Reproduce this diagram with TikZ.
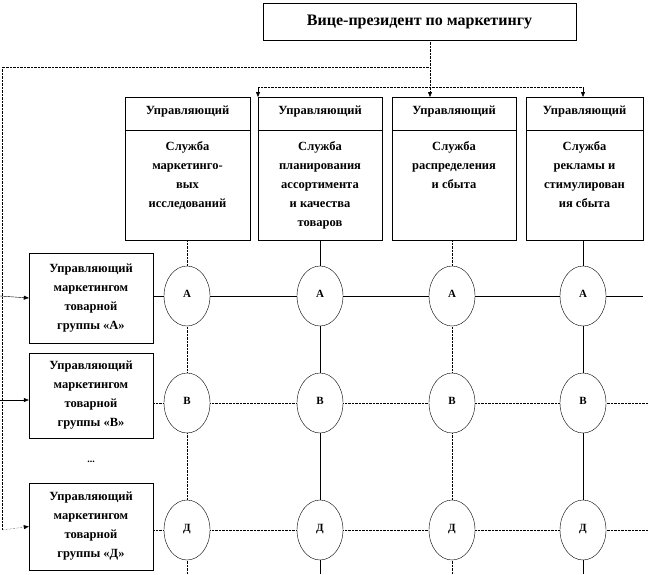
\documentclass[tikz,border=0pt]{standalone}
\usepackage{fontspec}
\setmainfont{Liberation Serif}
\usetikzlibrary{arrows.meta,shapes.geometric}
\tikzset{
 box/.style={draw,fill=white,font=\bfseries\fontsize{12.5}{19}\selectfont,align=center,inner sep=0pt},
 cell/.style={draw,fill=white,ellipse,minimum width=46pt,minimum height=60pt,inner sep=0pt,font=\bfseries\fontsize{11}{12}\selectfont},
 dots/.style={densely dotted},
 arr/.style={-{Triangle[length=5pt,width=4pt]}}
}
\begin{document}
\begin{tikzpicture}[x=1pt,y=-1pt]
 \useasboundingbox (0,0) rectangle (648,574);
 % vice-president
 \node[box,font=\bfseries\fontsize{16}{18}\selectfont,minimum width=313pt,minimum height=37pt] (vp) at (419.5,21.5) {Вице-президент по маркетингу};
 % grid lines
 \draw[dots] (187,240) -- (187,574);
 \draw (320,240) -- (320,574);
 \draw[dots] (452,240) -- (452,574);
 \draw (583,240) -- (583,574);
 \draw (153,296) -- (643,296);
 \draw[dots] (153,403) -- (648,403);
 \draw[dots] (153,530) -- (648,530);
 % service boxes
 \foreach \n/\xa/\xb/\txt in {s1/125/250/{Служба\\маркетинго-\\вых\\исследований},
   s2/258/382/{Служба\\планирования\\ассортимента\\и качества\\товаров},
   s3/392/516/{Служба\\распределения\\и сбыта},
   s4/526/643/{Служба\\рекламы и\\стимулирован\\ия сбыта}}{
  \draw[fill=white] (\xa,97) rectangle (\xb,240);
  \draw (\xa,130) -- (\xb,130);
  \node[box,draw=none,anchor=north] (\n) at ({(\xa+\xb)/2},106) {Управляющий};
  \node[box,draw=none,anchor=north] (\n t) at ({(\xa+\xb)/2},141) {\txt};
 }
 % product group managers
 \foreach \n/\ya/\yb/\g in {ga/253/343/А,gb/353/438/В,gd/483/570/Д}{
  \node[box,minimum width=124pt,minimum height={\yb-\ya}] (\n) at (91,{(\ya+\yb)/2}) {Управляющий\\маркетингом\\товарной\\группы «\g»};
 }
 \node[font=\bfseries\fontsize{10}{12}\selectfont] (etc) at (91,462) {...};
 % matrix cells
 \foreach \r/\y/\l in {a/296/А,b/403/В,d/530/Д}{
  \foreach \c/\x in {1/187,2/320,3/452,4/583}{
   \node[cell] (c\r\c) at (\x,\y) {\raisebox{5pt}{\l}};
  }
 }
 % links from vice-president
 \coordinate (j) at (430,67);
 \coordinate (k) at (430,87);
 \draw[dots] (vp.south -| j) -- (j) -- (2,67) -- (2,530) coordinate (l);
 \draw[dots,arr] (l) -- (gd.west);
 \draw[arr] (0,296) -- (ga.west);
 \draw[arr] (0,400) -- (gb.west |- 0,400);
 \draw[dots,arr] (j) -- (430,97);
 \draw[dots] (258,87) -- (583,87);
 \draw[arr] (258,87) -- (258,97);
 \draw[arr] (583,87) -- (583,97);
\end{tikzpicture}
\end{document}
